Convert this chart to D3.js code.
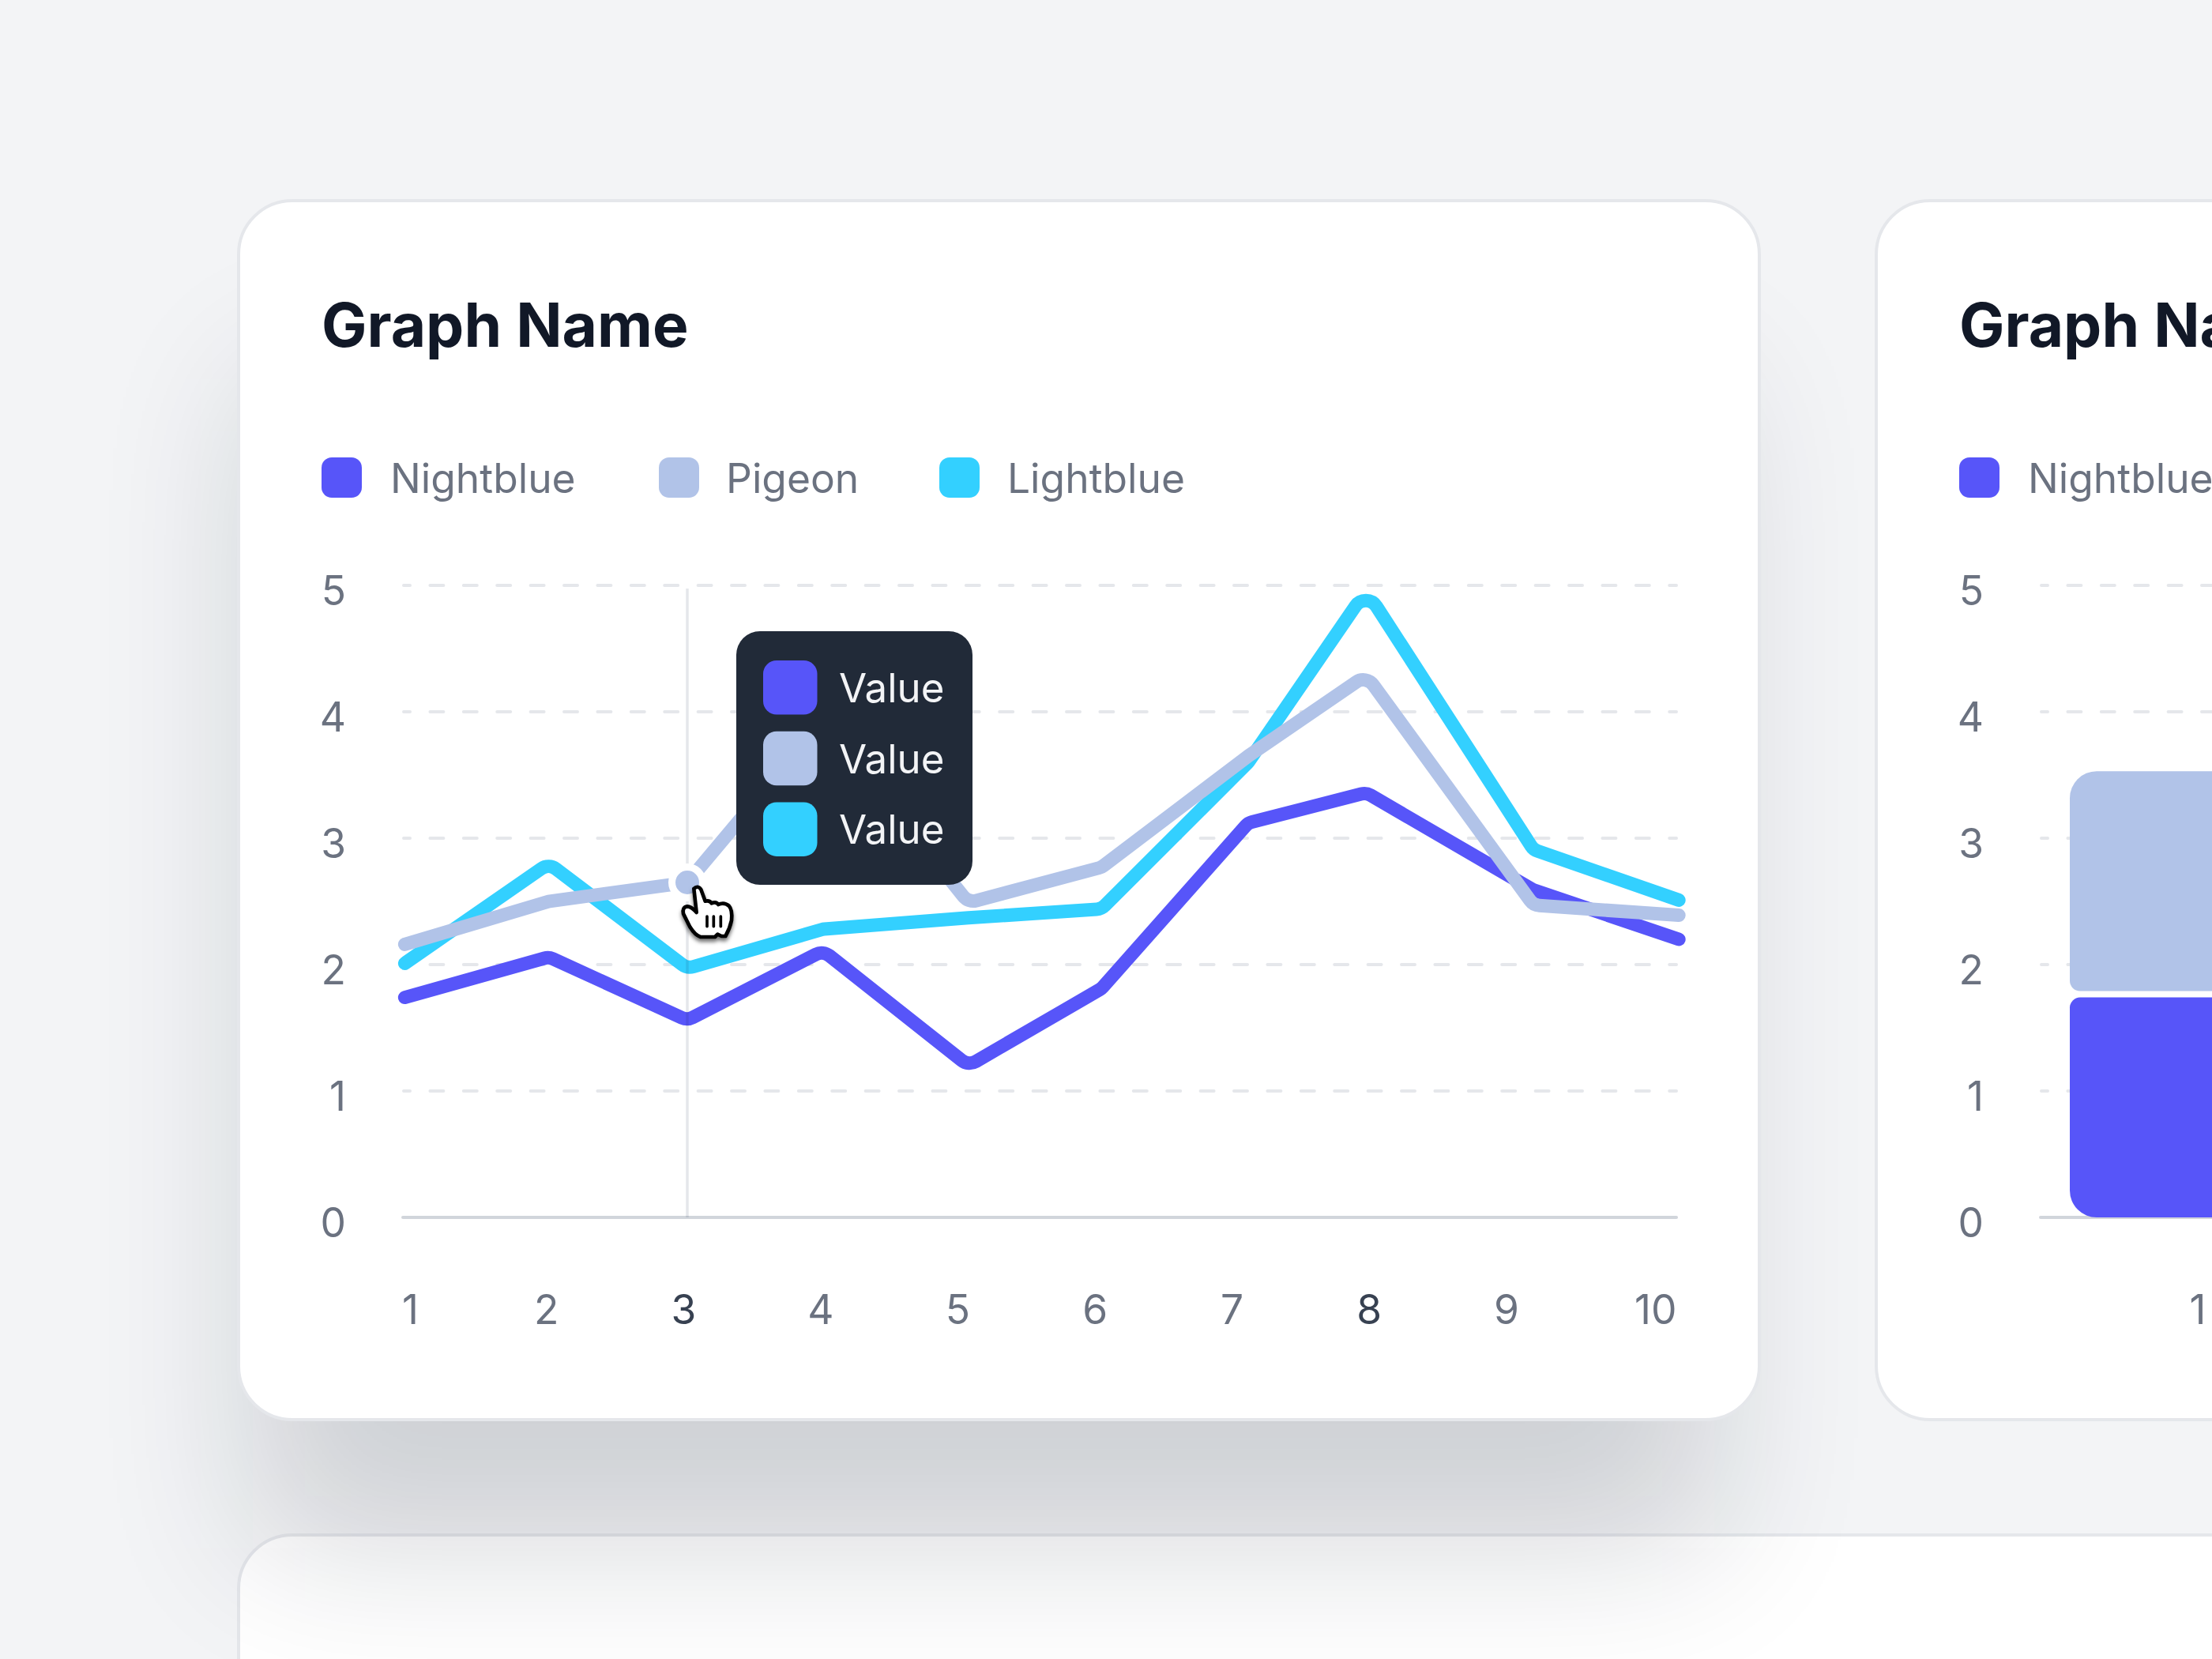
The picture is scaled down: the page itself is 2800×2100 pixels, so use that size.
<!DOCTYPE html>
<html>
<head>
<meta charset="utf-8">
<script src="https://cdn.jsdelivr.net/npm/d3@7"></script>
<style>
html, body { margin: 0; padding: 0; background: #f3f4f6; }
svg { display: block; }
text { font-family: Inter, sans-serif; }
.axis .domain { display: none; }
.axis text { font-family: Inter, sans-serif; font-size: 51.5px; fill: #6b7280; }
</style>
</head>
<body>
<svg id="chart" width="2800" height="2100"></svg>
<script>
var seriesNames = ['Nightblue', 'Pigeon', 'Lightblue'];
var seriesColors = ['#5755f9', '#b1c3e8', '#33d0ff'];
var yTicks = [0, 1, 2, 3, 4, 5];
var xTicks = [1, 2, 3, 4, 5, 6, 7, 8, 9, 10];
var highlightTicks = [3, 8];

// where each vertex really sits on the x axis, the drawing is not quite regular
var xPositions = [0.97, 2.02, 3.03, 4.02, 5.08, 6.05, 7.12, 7.98, 9.2, 10.26];
var nightblue = [1.74, 2.06, 1.56, 2.11, 1.2, 1.81, 3.12, 3.36, 2.59, 2.2];
var pigeon = [2.16, 2.5, 2.65, 3.93, 2.49, 2.77, 3.65, 4.29, 2.47, 2.39];
var lightblue = [2.01, 2.8, 1.97, 2.28, 2.37, 2.44, 3.6, 4.96, 2.91, 2.51];

// second card, only its first bar is in frame
var barCategories = ['1'];
var barNightblue = [1.74];
var barPigeon = [1.79];

var svg = d3.select('#chart');
var title = 'Graph Name';
var cardOffset = 2073;
var hoverIndex = 2;

var y = d3.scaleLinear().domain([0, 5]).range([1541, 741]);
var x = d3.scaleLinear().domain([1, 10]).range([517.6, 2080]);

function card(parent, cx, cy, w, h) {
	parent.append('rect')
		.attr('x', cx).attr('y', cy)
		.attr('width', w).attr('height', h)
		.attr('rx', 68).attr('ry', 68)
		.attr('fill', '#fff')
		.attr('stroke', '#e5e7eb')
		.attr('stroke-width', 4);
}

// shared frame of a card: title, legend, grid and y labels
function drawFrame(g, gridEnd) {
	g.append('text')
		.attr('x', 407).attr('y', 439)
		.attr('font-size', 76.6).attr('font-weight', 700)
		.attr('fill', '#111827')
		.text(title);

	var legendSwatch = [407, 834, 1189];
	var legendText = [494, 919, 1275];
	seriesNames.forEach(function (name, i) {
		g.append('rect')
			.attr('x', legendSwatch[i]).attr('y', 579)
			.attr('width', 51).attr('height', 51)
			.attr('rx', 13)
			.attr('fill', seriesColors[i]);
		g.append('text')
			.attr('x', legendText[i]).attr('y', 624)
			.attr('font-size', 51.5)
			.attr('fill', '#6b7280')
			.text(name);
	});

	g.append('g').selectAll('line')
		.data(yTicks.slice(1))
		.enter().append('line')
		.attr('x1', 511).attr('x2', gridEnd)
		.attr('y1', function (d) { return y(d); })
		.attr('y2', function (d) { return y(d); })
		.attr('stroke', '#e5e7eb')
		.attr('stroke-width', 4)
		.attr('stroke-linecap', 'round')
		.attr('stroke-dasharray', '17 25.4')
		.attr('stroke-dashoffset', 9);

	g.append('line')
		.attr('x1', 510).attr('x2', gridEnd)
		.attr('y1', y(0)).attr('y2', y(0))
		.attr('stroke', '#d1d5db')
		.attr('stroke-width', 4)
		.attr('stroke-linecap', 'round');

	var yAxis = g.append('g')
		.attr('class', 'axis')
		.attr('transform', 'translate(438,0)')
		.call(d3.axisLeft(y).tickValues(yTicks).tickSize(0).tickFormat(d3.format('d')));
	yAxis.selectAll('text')
		.attr('x', 0).attr('dy', 24.5)
		.attr('text-anchor', 'end');
}

function roundedBar(bx, by, bw, bh, rTop, rBottom) {
	var p = d3.path();
	p.moveTo(bx + rTop, by);
	p.lineTo(bx + bw - rTop, by);
	p.arcTo(bx + bw, by, bx + bw, by + rTop, rTop);
	p.lineTo(bx + bw, by + bh - rBottom);
	p.arcTo(bx + bw, by + bh, bx + bw - rBottom, by + bh, rBottom);
	p.lineTo(bx + rBottom, by + bh);
	p.arcTo(bx, by + bh, bx, by + bh - rBottom, rBottom);
	p.lineTo(bx, by + rTop);
	p.arcTo(bx, by, bx + rTop, by, rTop);
	p.closePath();
	return p.toString();
}

// straight segments with the corners rounded off
function curveRoundCorners(context) {
	var pts = [];
	return {
		areaStart: function () {},
		areaEnd: function () {},
		lineStart: function () { pts = []; },
		point: function (px, py) { pts.push([px, py]); },
		lineEnd: function () {
			context.moveTo(pts[0][0], pts[0][1]);
			for (var i = 1; i < pts.length - 1; i++) {
				context.arcTo(pts[i][0], pts[i][1], pts[i + 1][0], pts[i + 1][1], 16);
			}
			context.lineTo(pts[pts.length - 1][0], pts[pts.length - 1][1]);
		}
	};
}

// card 3, only its top edge is in frame
card(svg, 302, 1943, 2700, 400);

// card 2
card(svg, 2375, 254, 900, 1543);
var g2 = svg.append('g').attr('transform', 'translate(' + cardOffset + ',0)');
drawFrame(g2, 900);

var barX = d3.scaleBand().domain(barCategories).range([547, 871]);
g2.selectAll('.bar-night')
	.data(barNightblue)
	.enter().append('path')
	.attr('d', function (d, i) {
		return roundedBar(barX(barCategories[i]), y(d), barX.bandwidth(), y(0) - y(d), 13, 34);
	})
	.attr('fill', seriesColors[0]);
g2.selectAll('.bar-pigeon')
	.data(barPigeon)
	.enter().append('path')
	.attr('d', function (d, i) {
		var base = barNightblue[i];
		return roundedBar(barX(barCategories[i]), y(base + d), barX.bandwidth(), y(base) - 8 - y(base + d), 34, 13);
	})
	.attr('fill', seriesColors[1]);
g2.selectAll('.bar-label')
	.data(barCategories)
	.enter().append('text')
	.attr('x', function (d) { return barX(d) + barX.bandwidth() / 2; })
	.attr('y', 1676)
	.attr('text-anchor', 'middle')
	.attr('font-size', 51.5)
	.attr('fill', '#6b7280')
	.text(function (d) { return d; });

// shadow of the hovered card falls over the others
var defs = svg.append('defs');
defs.append('filter')
	.attr('id', 'cardShadow')
	.attr('filterUnits', 'userSpaceOnUse')
	.attr('x', -600).attr('y', -400).attr('width', 4000).attr('height', 3300)
	.append('feGaussianBlur').attr('stdDeviation', 100);
var cursorShadow = defs.append('filter')
	.attr('id', 'cursorShadow')
	.attr('x', '-40%').attr('y', '-40%').attr('width', '180%').attr('height', '180%');
cursorShadow.append('feDropShadow')
	.attr('dx', 0).attr('dy', 12)
	.attr('stdDeviation', 8)
	.attr('flood-color', '#000')
	.attr('flood-opacity', 0.55);

svg.append('rect')
	.attr('x', 320).attr('y', 480)
	.attr('width', 1850).attr('height', 1480)
	.attr('fill', '#111827')
	.attr('opacity', 0.155)
	.attr('filter', 'url(#cardShadow)');

// card 1
card(svg, 302, 254, 1925, 1543);
var g1 = svg.append('g');
drawFrame(g1, 2122);

var xAxis = g1.append('g')
	.attr('class', 'axis')
	.attr('transform', 'translate(0,1640)')
	.call(d3.axisBottom(x).tickValues(xTicks).tickSize(0).tickFormat(d3.format('d')));
xAxis.selectAll('text')
	.attr('y', 0).attr('dy', 36)
	.style('fill', function (d) { return highlightTicks.indexOf(d) !== -1 ? '#374151' : '#6b7280'; })
	.attr('text-anchor', function (d) { return d === 1 ? 'start' : d === 10 ? 'end' : 'middle'; })
	.attr('dx', function (d) { return d === 1 ? -9 : d === 10 ? 42 : 0; });

var line = d3.line()
	.x(function (d, i) { return x(xPositions[i]); })
	.y(function (d) { return y(d); })
	.curve(curveRoundCorners);

var series = [nightblue, pigeon, lightblue];
// stacking order in the picture: night, light, pigeon
[0, 2, 1].forEach(function (i) {
	g1.append('path')
		.attr('d', line(series[i]))
		.attr('fill', 'none')
		.attr('stroke', seriesColors[i])
		.attr('stroke-width', 17)
		.attr('stroke-linejoin', 'round')
		.attr('stroke-linecap', 'round');
});

// crosshair and hover point
var hoverX = x(xPositions[hoverIndex]);
g1.append('line')
	.attr('x1', hoverX).attr('x2', hoverX)
	.attr('y1', y(5) + 4).attr('y2', y(0))
	.attr('stroke', '#e5e7eb')
	.attr('stroke-width', 3.5)
	.style('mix-blend-mode', 'multiply');
g1.append('circle')
	.attr('cx', hoverX).attr('cy', y(pigeon[hoverIndex]))
	.attr('r', 24)
	.attr('fill', '#fff');
g1.append('circle')
	.attr('cx', hoverX).attr('cy', y(pigeon[hoverIndex]))
	.attr('r', 15)
	.attr('fill', seriesColors[1]);

// tooltip
var tip = g1.append('g').attr('transform', 'translate(932,799)');
tip.append('rect')
	.attr('width', 299).attr('height', 321)
	.attr('rx', 30)
	.attr('fill', '#212a38');
var tipRows = tip.selectAll('.row')
	.data(seriesColors)
	.enter().append('g')
	.attr('class', 'row')
	.attr('transform', function (d, i) { return 'translate(34,' + (37 + i * 89.7) + ')'; });
tipRows.append('rect')
	.attr('width', 68.5).attr('height', 68.5)
	.attr('rx', 17)
	.attr('fill', function (d) { return d; });
tipRows.append('text')
	.attr('x', 96).attr('y', 53)
	.attr('font-size', 51)
	.attr('fill', '#f3f4f6')
	.text('Value');

// hand cursor
var hand = g1.append('g')
	.attr('transform', 'translate(850,1110) scale(0.3333)')
	.attr('filter', 'url(#cursorShadow)');
hand.append('path')
	.attr('d', 'M85 45Q100 30 112 48L128 92Q145 88 152 100Q170 92 178 105Q200 95 218 110Q232 125 228 165Q222 195 205 225L190 225L175 218L165 228L110 228Q90 222 70 190L45 140Q40 115 60 112Q75 112 95 135Q90 90 85 45Z')
	.attr('fill', '#fff')
	.attr('stroke', '#000')
	.attr('stroke-width', 14)
	.attr('stroke-linejoin', 'round');
[135, 160, 187].forEach(function (sx) {
	hand.append('line')
		.attr('x1', sx).attr('x2', sx)
		.attr('y1', 150).attr('y2', 188)
		.attr('stroke', '#000')
		.attr('stroke-width', 11)
		.attr('stroke-linecap', 'round');
});
</script>
</body>
</html>
